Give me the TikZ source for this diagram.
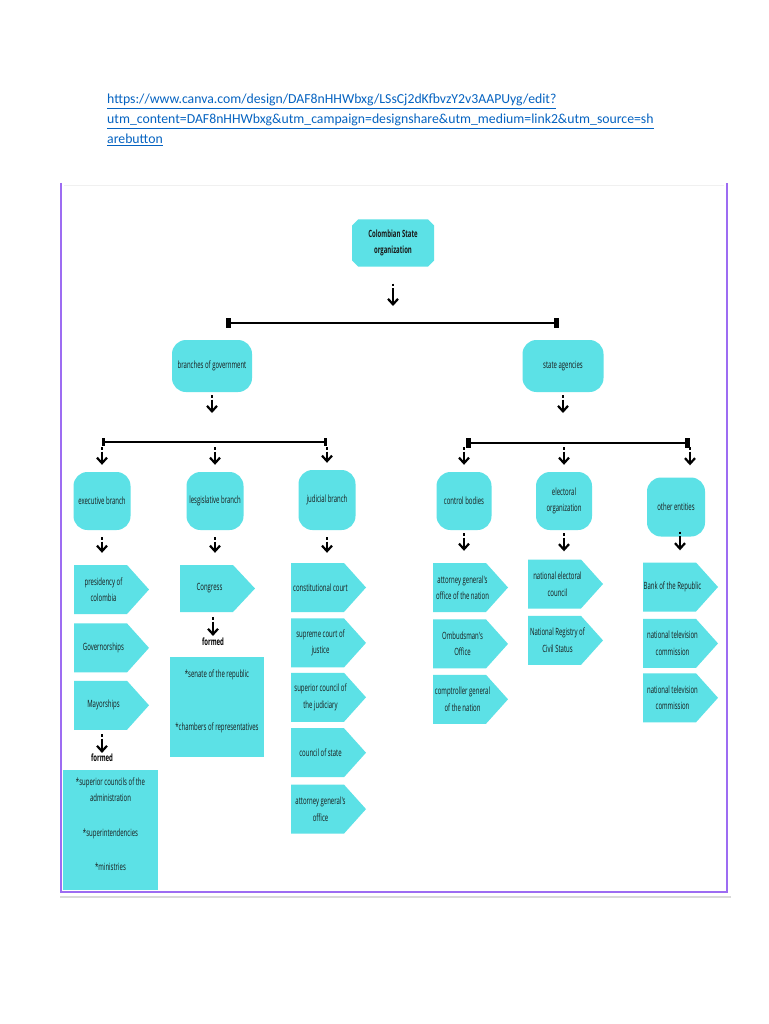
\documentclass[tikz,border=0pt]{standalone}
\usepackage{fontspec}
\setmainfont{Open Sans}
\newfontfamily\canvafont[FakeStretch=0.6]{Open Sans}
\newfontfamily\linkfont{Carlito}
\usetikzlibrary{arrows.meta,positioning,shapes.misc}
\definecolor{canvacyan}{HTML}{5CE1E6}
\definecolor{framepurple}{HTML}{9D6CF2}
\definecolor{linkblue}{HTML}{0563C1}

\begin{document}
\begin{tikzpicture}[
  x=1pt, y=-1pt,
  font=\canvafont\fontsize{10}{16.5}\selectfont,
  text=black!90,
  node distance=6pt,
  rootbox/.style={chamfered rectangle, chamfered rectangle xsep=3pt, chamfered rectangle ysep=3pt, fill=canvacyan, minimum width=82pt, minimum height=47pt, align=center, inner sep=2pt, font=\canvafont\fontsize{10}{16.5}\selectfont\bfseries},
  branch/.style={fill=canvacyan, rounded corners=14pt, minimum width=57pt, minimum height=58pt, align=center, inner sep=1pt},
  tag/.style={minimum width=91pt, minimum height=49pt, align=center, inner sep=1pt,
    path picture={\fill[canvacyan] ([xshift=16pt]path picture bounding box.north west) -- ([xshift=-22pt]path picture bounding box.north east) -- (path picture bounding box.east) -- ([xshift=-22pt]path picture bounding box.south east) -- ([xshift=16pt]path picture bounding box.south west) -- cycle;}},
  listbox/.style={fill=canvacyan, align=center, inner sep=2pt},
  formedlabel/.style={inner sep=1pt, text=black, font=\canvafont\fontsize{10}{16.5}\selectfont\bfseries},
  downarrow/.style={line width=2.2pt, -{Straight Barb[length=5.5pt,width=10pt,line width=2.2pt]}, dash pattern=on 2.5pt off 2pt on 40pt},
  bar/.style={line width=2.5pt, {Rectangle[length=5pt,width=10pt]}-{Rectangle[length=5pt,width=10pt]}},
  thinbar/.style={line width=1.3pt, {Rectangle[length=3pt,width=8pt]}-{Rectangle[length=3pt,width=8pt]}},
  link/.style={anchor=base west, inner sep=0pt, text=linkblue, font=\linkfont\fontsize{13.75}{19.5}\selectfont}
]
\useasboundingbox[fill=white] (0,0) rectangle (768,1024);

% link above the chart
\node[link] (url1) at (107,104) {\underline{https://www.canva.com/design/DAF8nHHWbxg/LSsCj2dKfbvzY2v3AAPUyg/edit?}};
\node[link] (url2) at (107,124) {\underline{utm\_content=DAF8nHHWbxg\&utm\_campaign=designshare\&utm\_medium=link2\&utm\_source=sh}};
\node[link] (url3) at (107,143.5) {\underline{arebutton}};

% frame of the pasted image
\draw[black!6, line width=1pt] (64,186) -- (724,186);
\draw[black!15, line width=2pt] (60,897) -- (731,897);
\draw[framepurple, line width=1.5pt] (61,183) -- (61,892) -- (727,892) -- (727,183);

% top levels
\node[rootbox] (root) at (393,243) {Colombian State\\organization};
\coordinate (tbL) at (226,323);
\coordinate (tbR) at (559,323);
\draw[bar] (tbL) -- (tbR);
\draw[downarrow, shorten <=17pt, shorten >=17pt] (root.south) -- (root.south |- tbL);

\node[branch, minimum width=80pt, minimum height=52pt] (gov) at (212,366) {branches of government};
\node[branch, minimum width=81pt, minimum height=52pt] (agencies) at (563,366) {state agencies};

\coordinate (lbL) at (102,442);
\coordinate (lbR) at (327,442);
\coordinate (rbL) at (466,443);
\coordinate (rbR) at (690,443);
\draw[thinbar] (lbL) -- (lbR);
\draw[bar] (rbL) -- (rbR);
\draw[downarrow, shorten <=3pt, shorten >=29pt] (gov.south) -- (gov.south |- lbL);
\draw[downarrow, shorten <=3pt, shorten >=30pt] (agencies.south) -- (agencies.south |- rbL);

% branches and agencies
\node[branch] (exec) at (102,501) {executive branch};
\node[branch] (legis) at (215,501) {lesgislative branch};
\node[branch, minimum height=60pt] (judicial) at (327,500) {judicial branch};
\node[branch, minimum width=55pt] (control) at (464,501) {control bodies};
\node[branch, minimum width=56pt] (electoral) at (564,501) {electoral\\organization};
\node[branch, minimum width=58pt, minimum height=59pt] (other) at (676,507) {other entities};

\draw[downarrow, shorten <=5pt, shorten >=7pt] (exec.north |- lbL) -- (exec.north);
\draw[downarrow, shorten <=5pt, shorten >=7pt] (legis.north |- lbL) -- (legis.north);
\draw[downarrow, shorten <=5pt, shorten >=7pt] (judicial.north |- lbL) -- (judicial.north);
\draw[downarrow, shorten <=4pt, shorten >=7pt] (control.north |- rbL) -- (control.north);
\draw[downarrow, shorten <=4pt, shorten >=7pt] (electoral.north |- rbL) -- (electoral.north);
\draw[downarrow, shorten <=4pt, shorten >=12pt] (rbR) -- (rbR |- other.north);

% executive column
\node[tag] (presidency) at (103.5,589.5) {presidency of\\colombia};
\node[tag, below=9pt of presidency] (governorships) {Governorships};
\node[tag, below=8pt of governorships] (mayorships) {Mayorships};
\node[formedlabel] (formedexec) at (102,758) {formed};
\node[listbox, minimum width=95pt, minimum height=120pt, text depth=12pt] (execlist) at (110.5,830) {*superior councils of the\\administration\\[18pt]*superintendencies\\[18pt]*ministries};
\draw[downarrow, shorten <=7pt, shorten >=12pt] (exec.south) -- (exec.south |- presidency.north);
\draw[downarrow, shorten <=4pt, shorten >=0pt] (mayorships.south -| formedexec) -- (formedexec.north);

% legislative column
\node[tag, minimum height=47pt] (congress) at (209.5,588.5) {Congress};
\node[formedlabel] (formedlegis) at (213,642) {formed};
\node[listbox, minimum width=94pt, minimum height=100pt, text depth=14pt] (legislist) at (217,707) {*senate of the republic\\[36pt]*chambers of representatives};
\draw[downarrow, shorten <=7pt, shorten >=12pt] (legis.south) -- (legis.south |- congress.north);
\draw[downarrow, shorten <=5pt, shorten >=1pt] (congress.south -| formedlegis) -- (formedlegis.north);

% judicial column
\node[tag] (constitutional) at (320.5,587.5) {constitutional court};
\node[tag, below=of constitutional] (supreme) {supreme court of\\justice};
\node[tag, below=5pt of supreme] (superior) {superior council of\\the judiciary};
\node[tag, below=of superior] (councilstate) {council of state};
\node[tag, below=7pt of councilstate] (attorney) {attorney general's\\office};
\draw[downarrow, shorten <=7pt, shorten >=10pt] (judicial.south) -- (judicial.south |- constitutional.north);

% control bodies column
\node[tag] (attorneynation) at (462.5,587.5) {attorney general's\\office of the nation};
\node[tag, below=7pt of attorneynation] (ombudsman) {Ombudsman's\\Office};
\node[tag, below=of ombudsman] (comptroller) {comptroller general\\of the nation};
\draw[downarrow, shorten <=3pt, shorten >=12pt] (control.south) -- (control.south |- attorneynation.north);

% electoral column
\node[tag] (electoralcouncil) at (557.5,584) {national electoral\\council};
\node[tag, below=7pt of electoralcouncil] (registry) {National Registry of\\Civil Status};
\draw[downarrow, shorten <=3pt, shorten >=8pt] (electoral.south) -- (electoral.south |- electoralcouncil.north);

% other entities column
\node[tag] (bank) at (672.5,587) {Bank of the Republic};
\node[tag, below=7pt of bank] (television) {national television\\commission};
\node[tag, below=5pt of television] (televisiontwo) {national television\\commission};
\draw[downarrow, shorten <=-5pt, shorten >=12pt] ([xshift=4pt]other.south) -- ([xshift=4pt]other.south |- bank.north);
\end{tikzpicture}
\end{document}
